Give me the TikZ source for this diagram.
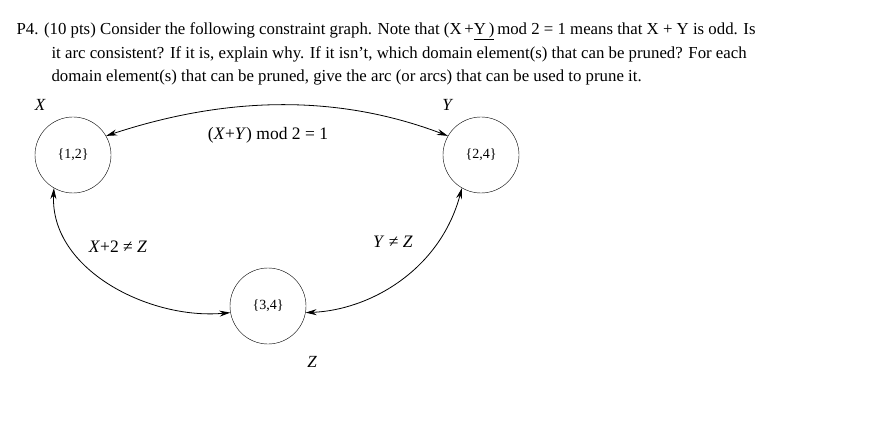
\documentclass[tikz,border=0pt]{standalone}
\usepackage{fontspec}
\setmainfont{Liberation Serif}
\usetikzlibrary{arrows.meta}
\begin{document}
\begin{tikzpicture}[x=1pt,y=-1pt,
  var/.style={circle,draw,minimum size=76pt,inner sep=0pt,font=\fontsize{14}{16}\selectfont},
  lab/.style={font=\fontsize{17}{19}\selectfont\itshape},
  elab/.style={font=\fontsize{17.5}{19}\selectfont},
  arc/.style={draw,line width=0.8pt,{Stealth[length=11pt,width=6pt]}-{Stealth[length=11pt,width=6pt]}}]
\useasboundingbox (0,0) rectangle (896,422);
\node[anchor=west,font=\fontsize{16.8}{22}\selectfont] (t1) at (13,31) {P4. (10 pts) Consider the following constraint graph. Note that (X\,+\underline{Y\,)}\,mod 2 = 1 means that X + Y is odd. Is};
\node[anchor=west,font=\fontsize{16.8}{22}\selectfont] (t2) at (48,54) {it arc consistent? If it is, explain why. If it isn't, which domain element(s) that can be pruned? For each};
\node[anchor=west,font=\fontsize{16.8}{22}\selectfont] (t3) at (48,77) {domain element(s) that can be pruned, give the arc (or arcs) that can be used to prune it.};
\node[var] (X) at (73,155) {\{1,2\}};
\node[var] (Y) at (481,155) {\{2,4\}};
\node[var] (Z) at (268,306) {\{3,4\}};
\node[lab] (xl) at (40,105) {X};
\node[lab] (yl) at (447,105) {Y};
\node[lab] (zl) at (312,362) {Z};
\draw[arc] (X.30) .. controls (230,95) and (340,95) .. (Y.150);
\draw[arc] (X.240) .. controls (50,270) and (150,320) .. (Z.190);
\draw[arc] (Y.240) .. controls (440,270) and (370,310) .. (Z.-10);
\node[elab] (e1) at (268,135) {(\textit{X}+\textit{Y}) mod 2 = 1};
\node[elab] (e2) at (118,247) {\textit{X}+2 ≠ \textit{Z}};
\node[elab] (e3) at (393,242) {\textit{Y} ≠ \textit{Z}};
\end{tikzpicture}
\end{document}
